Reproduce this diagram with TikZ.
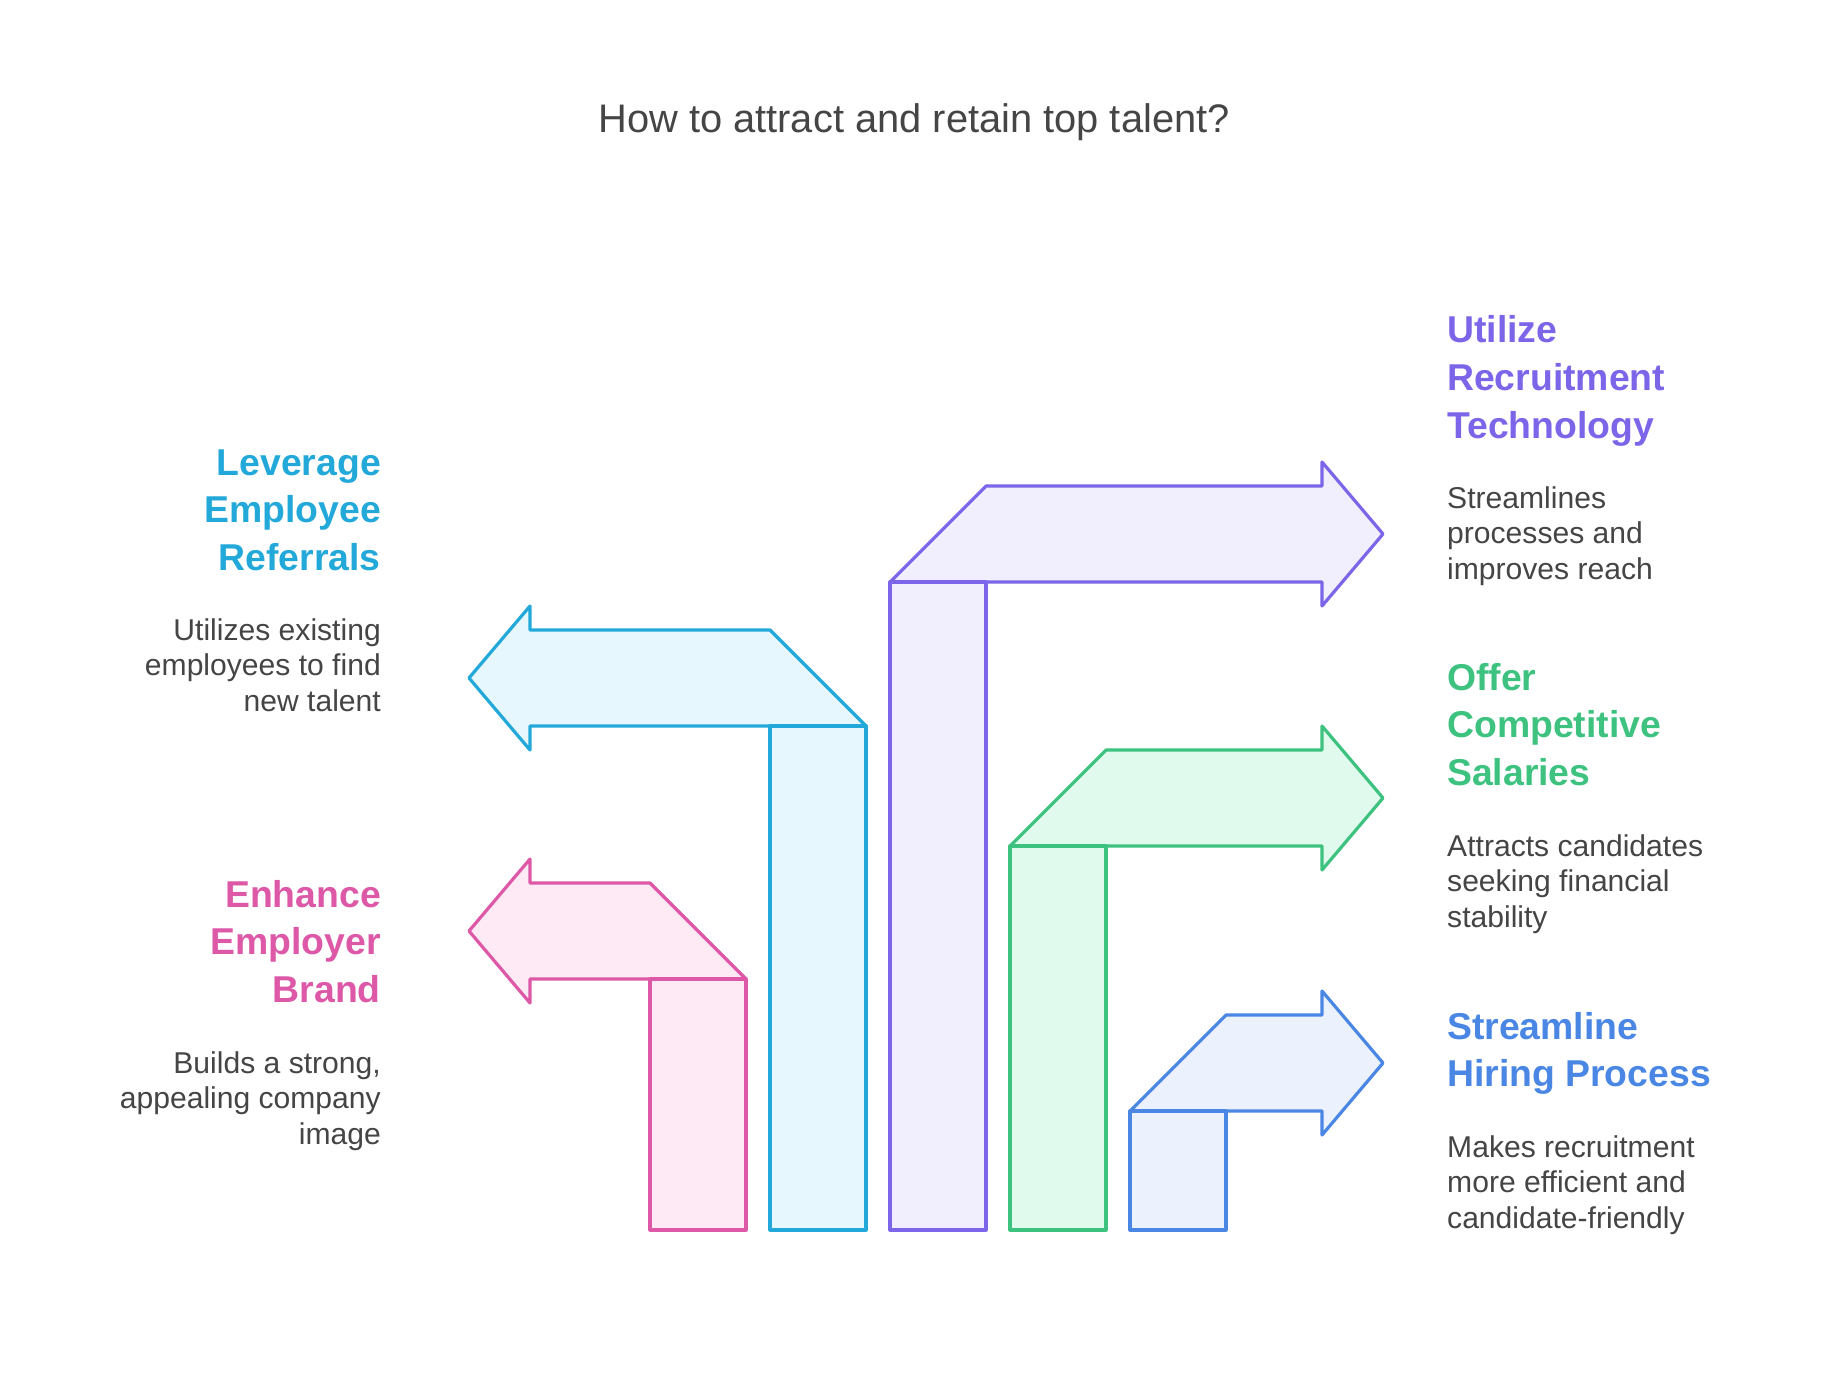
\documentclass[tikz,border=0pt]{standalone}
\usepackage{fontspec}
\setmainfont{Liberation Sans}
\definecolor{purpleC}{HTML}{7C65E8}
\definecolor{purpleF}{HTML}{F1EFFD}
\definecolor{cyanC}{HTML}{22A9D9}
\definecolor{cyanF}{HTML}{E6F7FD}
\definecolor{pinkC}{HTML}{DD58A7}
\definecolor{pinkF}{HTML}{FDEAF5}
\definecolor{greenC}{HTML}{3DC27F}
\definecolor{greenF}{HTML}{E0FBEE}
\definecolor{blueC}{HTML}{4A87E4}
\definecolor{blueF}{HTML}{EBF2FE}
\definecolor{textgray}{HTML}{454545}
\newcommand\titlefont{\fontsize{40}{48}\selectfont}
\newcommand\headfont{\fontsize{37.5}{48}\selectfont\bfseries}
\newcommand\bodyfont{\fontsize{30.2}{36}\selectfont}
% right-turning arrow: #1 colour style, #2 bar left x, #3 shaft top y
\newcommand\rightturn[3]{%
  \filldraw[#1] (#2,{#3+96}) -- ({#2+96},#3) -- (1322,#3) -- (1322,{#3-24}) -- (1383,{#3+48}) -- (1322,{#3+120}) -- (1322,{#3+96}) -- cycle;
  \filldraw[#1] (#2,{#3+96}) rectangle ({#2+96},1230);}
% left-turning arrow
\newcommand\leftturn[3]{%
  \filldraw[#1] ({#2+96},{#3+96}) -- (#2,#3) -- (530,#3) -- (530,{#3-24}) -- (469,{#3+48}) -- (530,{#3+120}) -- (530,{#3+96}) -- cycle;
  \filldraw[#1] (#2,{#3+96}) rectangle ({#2+96},1230);}
\tikzset{
  arr/.style={line width=3.2bp, line join=round},
  purplearr/.style={arr, draw=purpleC, fill=purpleF},
  cyanarr/.style={arr, draw=cyanC, fill=cyanF},
  pinkarr/.style={arr, draw=pinkC, fill=pinkF},
  greenarr/.style={arr, draw=greenC, fill=greenF},
  bluearr/.style={arr, draw=blueC, fill=blueF},
  rhead/.style={anchor=base west, inner sep=0, font=\headfont},
  lhead/.style={anchor=base east, inner sep=0, font=\headfont},
  rbody/.style={anchor=base west, inner sep=0, font=\bodyfont, text=textgray},
  lbody/.style={anchor=base east, inner sep=0, font=\bodyfont, text=textgray},
}
\begin{document}
\begin{tikzpicture}[x=1bp, y=-1bp]
\useasboundingbox[fill=white] (0,0) rectangle (1828,1376);

\node[anchor=base, inner sep=0, font=\titlefont, text=textgray] (title) at (914,133) {How to attract and retain top talent?};

\leftturn{pinkarr}{650}{883}
\leftturn{cyanarr}{770}{630}
\rightturn{purplearr}{890}{486}
\rightturn{greenarr}{1010}{750}
\rightturn{bluearr}{1130}{1015}

% right side texts
\node[rhead, text=purpleC] (h1) at (1447,343) {\begin{tabular}[t]{@{}l@{}}Utilize\\Recruitment\\Technology\end{tabular}};
\node[rbody] (b1) at (1447,508) {\begin{tabular}[t]{@{}l@{}}Streamlines\\processes and\\improves reach\end{tabular}};
\node[rhead, text=greenC] (h2) at (1447,690) {\begin{tabular}[t]{@{}l@{}}Offer\\Competitive\\Salaries\end{tabular}};
\node[rbody] (b2) at (1447,856) {\begin{tabular}[t]{@{}l@{}}Attracts candidates\\seeking financial\\stability\end{tabular}};
\node[rhead, text=blueC] (h3) at (1447,1039) {\begin{tabular}[t]{@{}l@{}}Streamline\\Hiring Process\end{tabular}};
\node[rbody] (b3) at (1447,1157) {\begin{tabular}[t]{@{}l@{}}Makes recruitment\\more efficient and\\candidate-friendly\end{tabular}};

% left side texts
\node[lhead, text=cyanC] (h4) at (381,475) {\begin{tabular}[t]{@{}r@{}}Leverage\\Employee\\Referrals\end{tabular}};
\node[lbody] (b4) at (381,640) {\begin{tabular}[t]{@{}r@{}}Utilizes existing\\employees to find\\new talent\end{tabular}};
\node[lhead, text=pinkC] (h5) at (381,907) {\begin{tabular}[t]{@{}r@{}}Enhance\\Employer\\Brand\end{tabular}};
\node[lbody] (b5) at (381,1073) {\begin{tabular}[t]{@{}r@{}}Builds a strong,\\appealing company\\image\end{tabular}};
\end{tikzpicture}
\end{document}
